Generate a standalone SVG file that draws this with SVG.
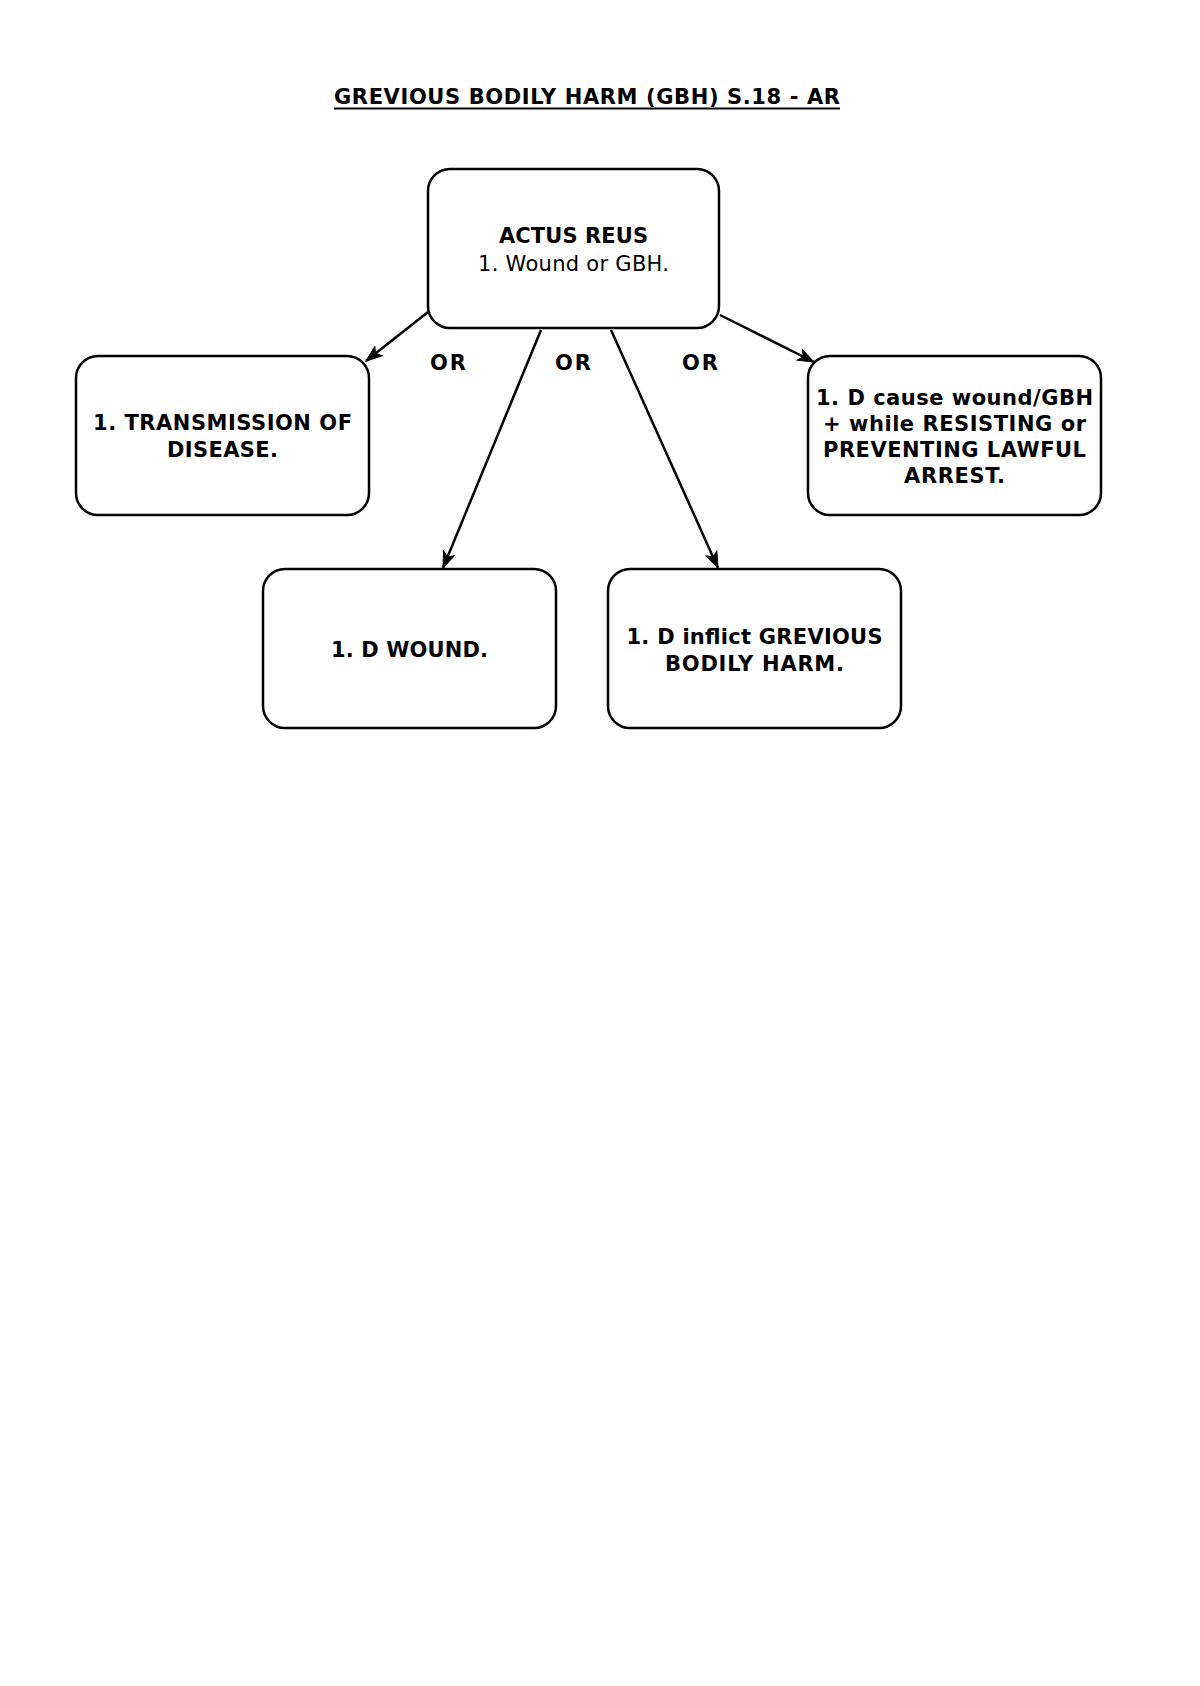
<svg xmlns="http://www.w3.org/2000/svg" width="1200" height="1686" viewBox="0 0 1200 1686">
<style>
.box{fill:#fff;stroke:#000;stroke-width:2.5}
.t{font-family:"DejaVu Sans","Verdana",sans-serif;font-size:21px;fill:#000;text-anchor:middle}
.b{font-weight:bold}
.edge{stroke:#000;stroke-width:2.5;fill:none}
</style>
<defs>
<marker id="arr" viewBox="0 0 18 14" refX="17" refY="7" markerWidth="18" markerHeight="14" markerUnits="userSpaceOnUse" orient="auto">
<path d="M1,1 L17,7 L1,13 L5,7 Z" fill="#000" stroke="#000" stroke-width="1"/>
</marker>
</defs>
<rect width="1200" height="1686" fill="#fff"/>
<g id="title">
<text class="t b" x="587" y="104" textLength="506" lengthAdjust="spacing">GREVIOUS BODILY HARM (GBH) S.18 - AR</text>
<line x1="334" y1="108.5" x2="840" y2="108.5" stroke="#000" stroke-width="1.8"/>
</g>
<g id="connectors">
<line class="edge" x1="428" y1="312" x2="366" y2="361" marker-end="url(#arr)"/>
<line class="edge" x1="541" y1="330" x2="443" y2="568" marker-end="url(#arr)"/>
<line class="edge" x1="611" y1="330" x2="718" y2="568" marker-end="url(#arr)"/>
<line class="edge" x1="720" y1="315" x2="814" y2="362" marker-end="url(#arr)"/>
<text class="t b" x="449" y="370" font-size="19" letter-spacing="2">OR</text>
<text class="t b" x="574" y="370" font-size="19" letter-spacing="2">OR</text>
<text class="t b" x="701" y="370" font-size="19" letter-spacing="2">OR</text>
</g>
<g id="actus-reus">
<rect class="box" x="428" y="169" width="291" height="159" rx="22"/>
<text class="t b" x="573.5" y="243" textLength="149" lengthAdjust="spacing">ACTUS REUS</text>
<text class="t" x="573.5" y="271" textLength="191" lengthAdjust="spacing">1. Wound or GBH.</text>
</g>
<g id="transmission">
<rect class="box" x="76" y="356" width="293" height="159" rx="22"/>
<text class="t b" x="222.5" y="430" textLength="259" lengthAdjust="spacing">1. TRANSMISSION OF</text>
<text class="t b" x="222.5" y="457" textLength="111" lengthAdjust="spacing">DISEASE.</text>
</g>
<g id="resisting-arrest">
<rect class="box" x="808" y="356" width="293" height="159" rx="22"/>
<text class="t b" x="954.5" y="405" textLength="277" lengthAdjust="spacing">1. D cause wound/GBH</text>
<text class="t b" x="954.5" y="431" textLength="263" lengthAdjust="spacing">+ while RESISTING or</text>
<text class="t b" x="954.5" y="457" textLength="263" lengthAdjust="spacing">PREVENTING LAWFUL</text>
<text class="t b" x="954.5" y="483" textLength="101" lengthAdjust="spacing">ARREST.</text>
</g>
<g id="d-wound">
<rect class="box" x="263" y="569" width="293" height="159" rx="22"/>
<text class="t b" x="409.5" y="657" textLength="157" lengthAdjust="spacing">1. D WOUND.</text>
</g>
<g id="d-inflict">
<rect class="box" x="608" y="569" width="293" height="159" rx="22"/>
<text class="t b" x="754.5" y="644" textLength="256" lengthAdjust="spacing">1. D inflict GREVIOUS</text>
<text class="t b" x="754.5" y="671" textLength="179" lengthAdjust="spacing">BODILY HARM.</text>
</g>
</svg>
